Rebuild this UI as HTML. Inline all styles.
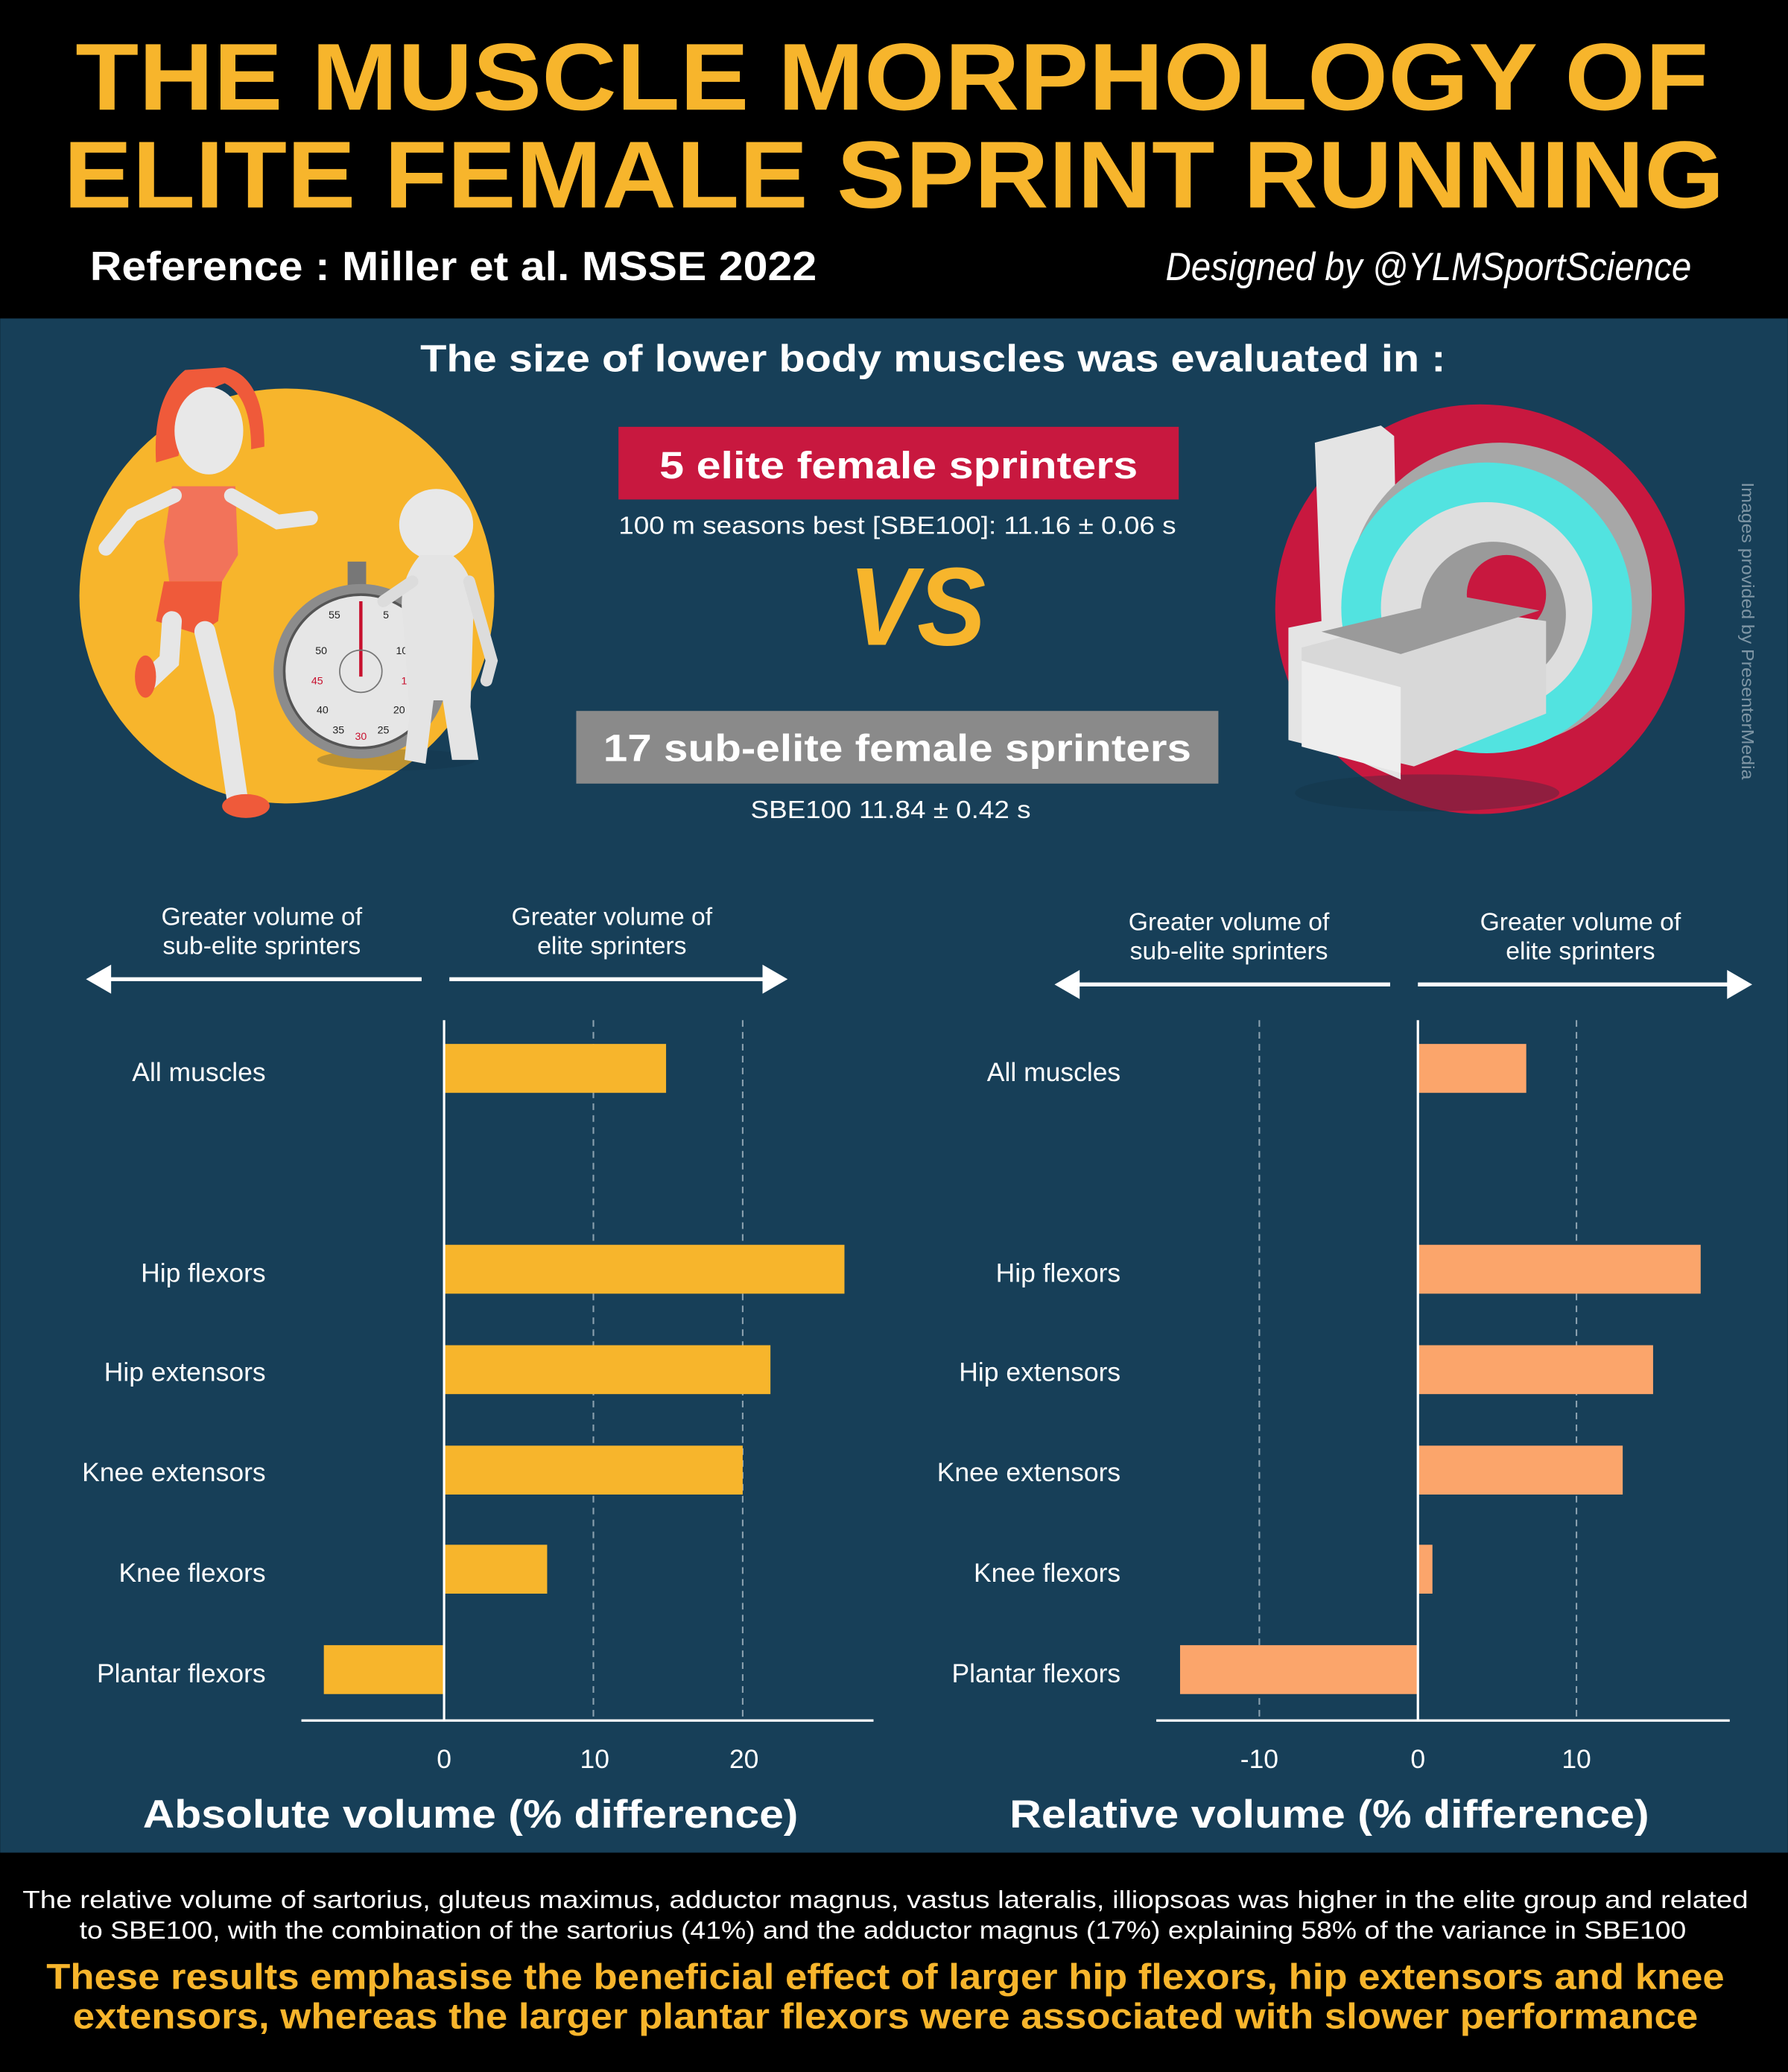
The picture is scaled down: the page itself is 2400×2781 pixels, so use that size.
<!DOCTYPE html>
<html><head><meta charset="utf-8"><style>
html,body{margin:0;padding:0;background:#000}
svg{display:block}
text{font-family:"Liberation Sans",sans-serif}
</style></head><body>
<svg width="2400" height="2781" viewBox="0 0 1353 1568" xmlns="http://www.w3.org/2000/svg">
<rect width="1353" height="1568" fill="#000"/>
<rect y="241" width="1353" height="1161" fill="#173f58"/>
<!-- Header -->
<g fill="#f7b52c" font-weight="bold" font-size="72">
<text x="57" y="83" textLength="1236" lengthAdjust="spacingAndGlyphs">THE MUSCLE MORPHOLOGY OF</text>
<text x="48" y="157" textLength="1257" lengthAdjust="spacingAndGlyphs">ELITE FEMALE SPRINT RUNNING</text>
</g>
<text x="68" y="212" fill="#fff" font-weight="bold" font-size="31" textLength="550" lengthAdjust="spacingAndGlyphs">Reference : Miller et al. MSSE 2022</text>
<text x="882" y="212" fill="#fff" font-style="italic" font-size="30" font-family="Liberation Serif,serif" textLength="398" lengthAdjust="spacingAndGlyphs">Designed by @YLMSportScience</text>

<text x="318" y="281" fill="#fff" font-weight="bold" font-size="29" textLength="776" lengthAdjust="spacingAndGlyphs">The size of lower body muscles was evaluated in :</text>

<!-- left illustration -->
<circle cx="217" cy="451" r="157" fill="#f7b52c"/>
<ellipse cx="300" cy="575" rx="60" ry="8" fill="#0f2d40" opacity="0.25"/>
<!-- stopwatch -->
<rect x="263" y="425" width="14" height="20" fill="#777"/>
<circle cx="273" cy="508" r="66" fill="#8c8c8c"/>
<circle cx="273" cy="508" r="58" fill="#e6e6e6"/>
<circle cx="273" cy="508" r="58" fill="none" stroke="#555" stroke-width="2"/>
<line x1="273" y1="455" x2="273" y2="512" stroke="#c8102e" stroke-width="2.5"/>
<circle cx="273" cy="508" r="16" fill="none" stroke="#777" stroke-width="1"/>
<g font-size="8" fill="#222" text-anchor="middle"><text x="253" y="468">55</text><text x="292" y="468">5</text><text x="243" y="495">50</text><text x="304" y="495">10</text><text x="240" y="518" fill="#c8102e">45</text><text x="308" y="518" fill="#c8102e">15</text><text x="244" y="540">40</text><text x="302" y="540">20</text><text x="256" y="555">35</text><text x="290" y="555">25</text><text x="273" y="560" fill="#c8102e">30</text></g>
<!-- stick man -->
<ellipse cx="330" cy="397" rx="28" ry="27" fill="#e8e8e8"/>
<path d="M318 420 Q300 440 305 470 L310 540 L306 575 L322 578 L328 530 L335 530 L342 575 L362 575 L356 535 L358 470 Q362 435 342 420 Z" fill="#e4e4e4"/>
<path d="M355 440 L372 500 L368 515" stroke="#dcdcdc" stroke-width="9" fill="none" stroke-linecap="round"/>
<path d="M312 440 L290 455" stroke="#dcdcdc" stroke-width="9" fill="none" stroke-linecap="round"/>
<!-- runner -->
<path d="M140 280 Q115 300 118 350 L135 345 Q140 300 170 290 Q190 300 190 340 L200 338 Q200 285 170 278 Z" fill="#ef5a3a"/>
<ellipse cx="158" cy="326" rx="26" ry="33" fill="#e8e8e8"/>
<path d="M130 368 L178 368 L180 420 L168 440 L128 440 L124 410 Z" fill="#f2735a"/>
<path d="M124 440 L168 440 L165 470 L150 480 L118 470 Z" fill="#ef5a3a"/>
<path d="M155 478 L170 540 L180 608" stroke="#e6e6e6" stroke-width="16" fill="none" stroke-linecap="round"/>
<path d="M130 470 L128 500 L112 515" stroke="#e6e6e6" stroke-width="15" fill="none" stroke-linecap="round"/>
<path d="M132 375 L100 390 L80 415" stroke="#e6e6e6" stroke-width="11" fill="none" stroke-linecap="round"/>
<path d="M175 375 L210 395 L235 392" stroke="#e6e6e6" stroke-width="11" fill="none" stroke-linecap="round"/>
<ellipse cx="186" cy="610" rx="18" ry="9" fill="#ef5a3a"/>
<ellipse cx="110" cy="512" rx="8" ry="16" fill="#ef5a3a"/>

<!-- right illustration -->
<circle cx="1120" cy="461" r="155" fill="#c8183f"/>
<ellipse cx="1080" cy="600" rx="100" ry="14" fill="#0f2d40" opacity="0.3"/>
<path d="M995 335 L1045 322 L1055 330 L1060 590 L1015 570 L975 560 L975 475 L1000 470 Z" fill="#e4e4e4"/>
<circle cx="1135" cy="450" r="115" fill="#a7a7a7"/>
<circle cx="1125" cy="460" r="110" fill="#52e3e0"/>
<circle cx="1125" cy="460" r="80" fill="#dedede"/>
<circle cx="1130" cy="465" r="55" fill="#9a9a9a"/>
<circle cx="1140" cy="450" r="30" fill="#c8183f"/>
<path d="M985 490 L1100 460 L1170 470 L1170 540 L1070 580 L985 560 Z" fill="#d8d8d8"/>
<path d="M1000 478 L1110 452 L1165 462 L1060 495 Z" fill="#9a9a9a"/>
<path d="M985 500 L1060 520 L1060 585 L985 565 Z" fill="#eeeeee"/>
<text transform="translate(1318 365) rotate(90)" fill="#7f96a5" font-size="13" textLength="225" lengthAdjust="spacingAndGlyphs">Images provided by PresenterMedia</text>

<!-- center boxes -->
<rect x="468" y="323" width="424" height="55" fill="#c8183f"/>
<text x="680" y="362" text-anchor="middle" fill="#fff" font-weight="bold" font-size="29" textLength="362" lengthAdjust="spacingAndGlyphs">5 elite female sprinters</text>
<text x="679" y="404" text-anchor="middle" fill="#fff" font-size="19" textLength="422" lengthAdjust="spacingAndGlyphs">100 m seasons best [SBE100]: 11.16 ± 0.06 s</text>
<text x="694" y="488" text-anchor="middle" fill="#f7b52c" font-weight="bold" font-style="italic" font-size="84" textLength="104" lengthAdjust="spacingAndGlyphs">VS</text>
<rect x="436" y="538" width="486" height="55" fill="#8a8a8a"/>
<text x="679" y="576" text-anchor="middle" fill="#fff" font-weight="bold" font-size="29" textLength="445" lengthAdjust="spacingAndGlyphs">17 sub-elite female sprinters</text>
<text x="674" y="619" text-anchor="middle" fill="#fff" font-size="19" textLength="212" lengthAdjust="spacingAndGlyphs">SBE100 11.84 ± 0.42 s</text>

<!-- Arrow texts -->
<g fill="#fff" font-size="19" text-anchor="middle">
<text x="198" y="700">Greater volume of</text><text x="198" y="722">sub-elite sprinters</text>
<text x="463" y="700">Greater volume of</text><text x="463" y="722">elite sprinters</text>
<text x="930" y="704">Greater volume of</text><text x="930" y="726">sub-elite sprinters</text>
<text x="1196" y="704">Greater volume of</text><text x="1196" y="726">elite sprinters</text>
</g>
<g stroke="#fff" stroke-width="3" fill="#fff">
<line x1="78" y1="741" x2="319" y2="741"/><polygon points="65,741 84,730 84,752" stroke="none"/>
<line x1="340" y1="741" x2="582" y2="741"/><polygon points="596,741 577,730 577,752" stroke="none"/>
<line x1="812" y1="745" x2="1052" y2="745"/><polygon points="798,745 817,734 817,756" stroke="none"/>
<line x1="1073" y1="745" x2="1312" y2="745"/><polygon points="1326,745 1307,734 1307,756" stroke="none"/>
</g>

<!-- Left chart -->
<g stroke="#8aa0ae" stroke-width="1.2" stroke-dasharray="5,4">
<line x1="449" y1="772" x2="449" y2="1302"/><line x1="562" y1="772" x2="562" y2="1302"/>
<line x1="953" y1="772" x2="953" y2="1302"/><line x1="1193" y1="772" x2="1193" y2="1302"/>
</g>
<g fill="#f7b52c">
<rect x="336" y="790" width="168" height="37"/>
<rect x="336" y="942" width="303" height="37"/>
<rect x="336" y="1018" width="247" height="37"/>
<rect x="336" y="1094" width="226" height="37"/>
<rect x="336" y="1169" width="78" height="37"/>
<rect x="245" y="1245" width="91" height="37"/>
</g>
<g fill="#fba56b">
<rect x="1073" y="790" width="82" height="37"/>
<rect x="1073" y="942" width="214" height="37"/>
<rect x="1073" y="1018" width="178" height="37"/>
<rect x="1073" y="1094" width="155" height="37"/>
<rect x="1073" y="1169" width="11" height="37"/>
<rect x="893" y="1245" width="180" height="37"/>
</g>
<g stroke="#fff" stroke-width="1.8">
<line x1="336" y1="772" x2="336" y2="1302"/><line x1="228" y1="1302" x2="661" y2="1302"/>
<line x1="1073" y1="772" x2="1073" y2="1302"/><line x1="875" y1="1302" x2="1309" y2="1302"/>
</g>
<g fill="#fff" font-size="20" text-anchor="end">
<text x="201" y="818">All muscles</text><text x="201" y="970">Hip flexors</text><text x="201" y="1045">Hip extensors</text><text x="201" y="1121">Knee extensors</text><text x="201" y="1197">Knee flexors</text><text x="201" y="1273">Plantar flexors</text>
<text x="848" y="818">All muscles</text><text x="848" y="970">Hip flexors</text><text x="848" y="1045">Hip extensors</text><text x="848" y="1121">Knee extensors</text><text x="848" y="1197">Knee flexors</text><text x="848" y="1273">Plantar flexors</text>
</g>
<g fill="#fff" font-size="20" text-anchor="middle">
<text x="336" y="1338">0</text><text x="450" y="1338">10</text><text x="563" y="1338">20</text>
<text x="953" y="1338">-10</text><text x="1073" y="1338">0</text><text x="1193" y="1338">10</text>
</g>
<g fill="#fff" font-weight="bold" font-size="30" text-anchor="middle">
<text x="356" y="1383" textLength="496" lengthAdjust="spacingAndGlyphs">Absolute volume (% difference)</text>
<text x="1006" y="1383" textLength="484" lengthAdjust="spacingAndGlyphs">Relative volume (% difference)</text>
</g>

<!-- Footer -->
<g fill="#fff" font-size="19" text-anchor="middle">
<text x="670" y="1444" textLength="1306" lengthAdjust="spacingAndGlyphs">The relative volume of sartorius, gluteus maximus, adductor magnus, vastus lateralis, illiopsoas was higher in the elite group and related</text>
<text x="668" y="1467" textLength="1216" lengthAdjust="spacingAndGlyphs">to SBE100, with the combination of the sartorius (41%) and the adductor magnus (17%) explaining 58% of the variance in SBE100</text>
</g>
<g fill="#f7b52c" font-weight="bold" font-size="27" text-anchor="middle">
<text x="670" y="1505" textLength="1270" lengthAdjust="spacingAndGlyphs">These results emphasise the beneficial effect of larger hip flexors, hip extensors and knee</text>
<text x="670" y="1535" textLength="1230" lengthAdjust="spacingAndGlyphs">extensors, whereas the larger plantar flexors were associated with slower performance</text>
</g>
</svg>
</body></html>
